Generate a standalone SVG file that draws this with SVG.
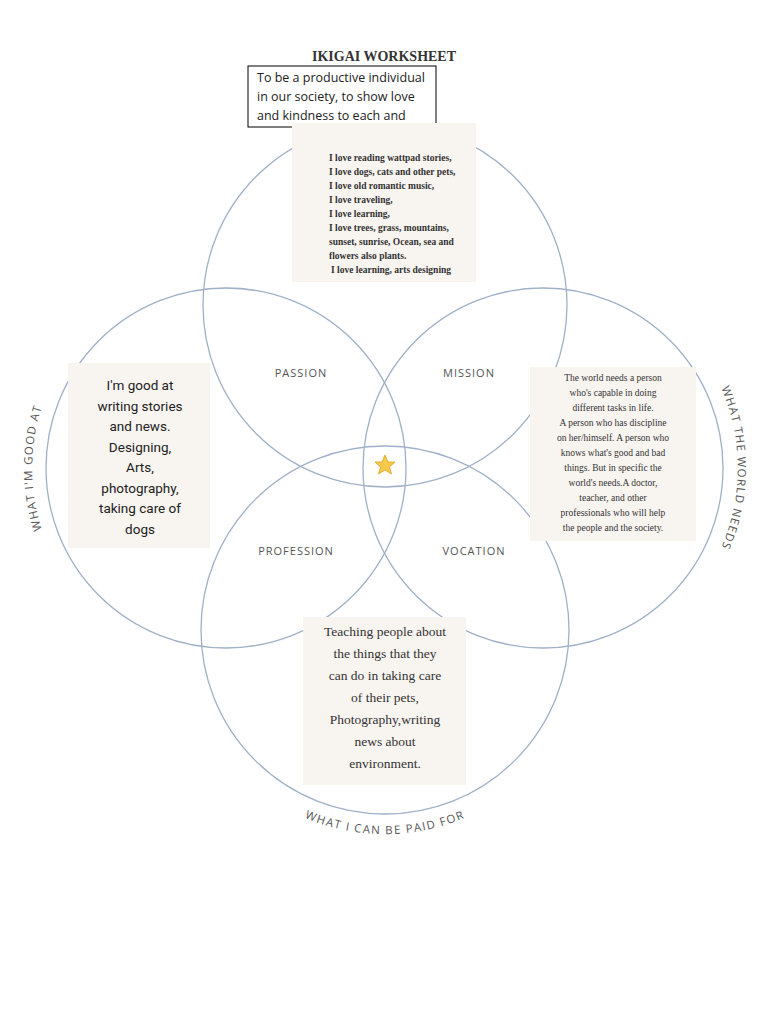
<svg xmlns="http://www.w3.org/2000/svg" width="768" height="1024" viewBox="0 0 768 1024">
<style>
.c{fill:none;stroke:#9fb0c8;stroke-width:1.3}
.box{fill:#f8f4f0}
.lab{font-family:"Open Sans",sans-serif;font-size:11px;fill:#555;letter-spacing:1px;text-anchor:middle}
.arc{font-family:"Open Sans",sans-serif;font-size:11.5px;fill:#555;letter-spacing:1.2px}
.ser{font-family:"Liberation Serif",serif;fill:#333;text-anchor:middle}
.san{font-family:"Open Sans","Liberation Sans",sans-serif;fill:#222}
</style>
<defs>
<path id="pl" d="M 59 568 A 200 200 0 0 1 59 368"/>
<path id="pr" d="M 711 368 A 200 200 0 0 1 711 568"/>
<path id="pb" d="M 245 773 A 200 200 0 0 0 525 773"/>
</defs>
<rect width="768" height="1024" fill="#fff"/>
<g id="circles">
<circle class="c" cx="385" cy="305" r="182"/>
<circle class="c" cx="226" cy="468" r="180"/>
<circle class="c" cx="543" cy="468" r="180"/>
<circle class="c" cx="385" cy="630" r="184"/>
</g>
<text class="ser" x="384" y="61" font-size="14" style="font-weight:bold">IKIGAI WORKSHEET</text>
<g id="title-box">
<rect x="248" y="66" width="188" height="61" fill="#fff" stroke="#000" stroke-width="1"/>
<text class="san" font-size="12.5" x="257"><tspan x="257" y="82">To be a productive individual</tspan><tspan x="257" y="101">in our society, to show love</tspan><tspan x="257" y="120">and kindness to each and</tspan></text>
</g>
<g id="passion-box">
<rect class="box" x="292" y="123" width="184" height="159"/>
<text class="ser" font-size="9.5" style="font-weight:bold;text-anchor:start"><tspan x="329" y="161">I love reading wattpad stories,</tspan><tspan x="329" y="175">I love dogs, cats and other pets,</tspan><tspan x="329" y="189">I love old romantic music,</tspan><tspan x="329" y="203">I love traveling,</tspan><tspan x="329" y="217">I love learning,</tspan><tspan x="329" y="231">I love trees, grass, mountains,</tspan><tspan x="329" y="245">sunset, sunrise, Ocean, sea and</tspan><tspan x="329" y="259">flowers also plants.</tspan><tspan x="331" y="273">I love learning, arts designing</tspan></text>
</g>
<g id="good-box">
<rect class="box" x="68" y="363" width="142" height="185"/>
<text font-size="13.5" text-anchor="middle" font-family="Roboto,sans-serif" fill="#222"><tspan x="140" y="390">I'm good at</tspan><tspan x="140" y="410.5">writing stories</tspan><tspan x="140" y="431">and news.</tspan><tspan x="140" y="451.5">Designing,</tspan><tspan x="140" y="472">Arts,</tspan><tspan x="140" y="492.5">photography,</tspan><tspan x="140" y="513">taking care of</tspan><tspan x="140" y="533.5">dogs</tspan></text>
</g>
<g id="needs-box">
<rect class="box" x="530" y="367" width="166" height="174"/>
<text class="ser" font-size="9.5"><tspan x="613" y="381">The world needs a person</tspan><tspan x="613" y="396">who's capable in doing</tspan><tspan x="613" y="411">different tasks in life.</tspan><tspan x="613" y="426">A person who has discipline</tspan><tspan x="613" y="441">on her/himself. A person who</tspan><tspan x="613" y="456">knows what's  good and bad</tspan><tspan x="613" y="471">things. But in specific the</tspan><tspan x="613" y="486">world's needs.A doctor,</tspan><tspan x="613" y="501">teacher, and other</tspan><tspan x="613" y="516">professionals who will help</tspan><tspan x="613" y="531">the people and the society.</tspan></text>
</g>
<g id="paid-box">
<rect class="box" x="303" y="617" width="163" height="168"/>
<text class="ser" font-size="13.5" fill="#222"><tspan x="385" y="636">Teaching people about</tspan><tspan x="385" y="658">the things that they</tspan><tspan x="385" y="680">can do  in taking care</tspan><tspan x="385" y="702">of their  pets,</tspan><tspan x="385" y="724">Photography,writing</tspan><tspan x="385" y="746">news about</tspan><tspan x="385" y="768">environment.</tspan></text>
</g>
<g id="labels">
<text class="lab" x="301" y="377">PASSION</text>
<text class="lab" x="469" y="377">MISSION</text>
<text class="lab" x="296" y="555">PROFESSION</text>
<text class="lab" x="474" y="555">VOCATION</text>
<text class="arc"><textPath href="#pl" startOffset="50%" text-anchor="middle">WHAT I'M GOOD AT</textPath></text>
<text class="arc"><textPath href="#pr" startOffset="50%" text-anchor="middle">WHAT THE WORLD NEEDS</textPath></text>
<text class="arc" dy="4"><textPath href="#pb" startOffset="50%" text-anchor="middle">WHAT I CAN BE PAID FOR</textPath></text>
</g>
<g id="star">
<polygon points="385,455 388,462 395,462 389.5,467 391.5,474 385,470 378.5,474 380.5,467 375,462 382,462" fill="#f6c94a" stroke="#d9a520" stroke-width="0.8"/>
</g>
</svg>
